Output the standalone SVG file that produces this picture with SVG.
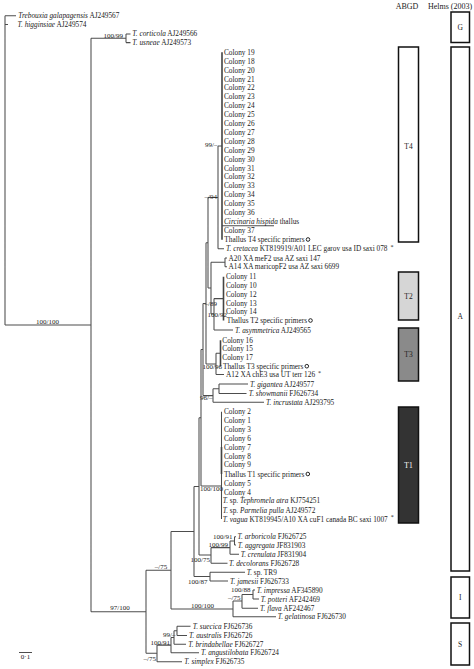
<svg xmlns="http://www.w3.org/2000/svg" width="474" height="669" viewBox="0 0 474 669">
<style>
text{font-family:"Liberation Serif","Times New Roman",serif;fill:#222}
.lf{font-size:7.3px}
.sp{font-size:7px}
.i{font-style:italic}
.e{text-anchor:end}
.m{text-anchor:middle}
.br{fill:none;stroke:#4d4d4d;stroke-width:1.05}
.cv{fill:none;stroke:#444;stroke-width:1.6}
.box{stroke:#111;stroke-width:1.5}
.bl{font-size:7.5px;text-anchor:middle}
.hd{font-size:8px;text-anchor:middle}
.pm{fill:none;stroke:#222;stroke-width:1}
.ast{font-size:6px}
</style>
<rect width="474" height="669" fill="#fff"/>
<g id="connectors">
<path class="br" d="M5 15.7V325M5 15.7H16M5 24.5H8M5 325H91
M91 38.3V611.8M91 38.3H126M126 34V42.6M126 34H130.5M126 42.6H130.5
M91 611.8H146M146 570.2V653.3
M146 570.2H171M171 531.5V609
M171 609H233M233 601V616.8M233 616.8H276M233 601H242M242 594.5V608.2M242 608.2H258M242 594.5H253M253 590V599M253 590H255M253 599H259
M171 531.5H194M194 486.4V576.5
M194 576.5H210M210 572.3V581M210 572.3H245M210 581H228
M194 486.4H199M199 417.8V555
M199 555H211M211 547.6V563.3M211 563.3H227.5
M211 547.6H230M230 541V554.2M230 554.2H239
M230 541H234.5M234.5 536.8V545M234.5 536.8H236M234.5 545H236
M199 417.8H201M201 349.5V486
M201 486H221.5M221.5 411.7V519
M201 349.5H203M203 303.5V395.6
M203 395.6H213M213 388.8V402.3M213 402.3H264
M213 388.8H219M219 384V393.5M219 384H248M219 393.5H246.5
M203 303.5H206M206 242.7V364
M206 364H216M216 353.3V374.5M216 374.5H224
M216 353.3H220.5
M206 242.7H208M208 197.4V288
M208 197.4H218M218 146V248.7M218 248.7H224
M218 146H222
M208 288H211M211 262.3V314
M211 262.3H225M225 258V266.7M225 258H227M225 266.7H227
M211 314H214M214 298.6V330M214 330H233
M214 298.6H223.5
M146 653.3H157M157 645.1V661.7M157 661.7H182
M157 645.1H171M171 637.5V652.8M171 652.8H199
M171 637.5H174M174 630.8V644.3M174 644.3H186
M174 630.8H177M177 626.2V635.5M177 626.2H190.5M177 635.5H187
M222 225.8H274"/>
<path class="cv" d="M222 52.3V239.7M223.5 276.7V320.5M220.5 340.3V366.2M221.5 447V474"/>
<path class="br" d="M19 652.5H32"/>
</g>
<g id="leaves">
<g id="n-galapagensis"><text class="lf" x="18.3" y="18.2"><tspan class="i">Trebouxia galapagensis</tspan> AJ249567</text></g>
<g id="n-higginsiae"><text class="lf" x="17.5" y="27"><tspan class="i">T. higginsiae</tspan> AJ249574</text></g>
<g id="n-corticola"><text class="lf" x="132.3" y="36.3"><tspan class="i">T. corticola</tspan> AJ249566</text></g>
<g id="n-usneae"><text class="lf" x="132.3" y="44.9"><tspan class="i">T. usneae</tspan> AJ249573</text></g>
<g id="n-t4">
<text class="lf" x="224" y="54.8">Colony 19</text>
<text class="lf" x="224" y="63.7">Colony 18</text>
<text class="lf" x="224" y="72.6">Colony 20</text>
<text class="lf" x="224" y="81.5">Colony 21</text>
<text class="lf" x="224" y="90.4">Colony 22</text>
<text class="lf" x="224" y="99.3">Colony 23</text>
<text class="lf" x="224" y="108.2">Colony 24</text>
<text class="lf" x="224" y="117.1">Colony 25</text>
<text class="lf" x="224" y="126">Colony 26</text>
<text class="lf" x="224" y="134.9">Colony 27</text>
<text class="lf" x="224" y="143.8">Colony 28</text>
<text class="lf" x="224" y="152.7">Colony 29</text>
<text class="lf" x="224" y="161.6">Colony 30</text>
<text class="lf" x="224" y="170.5">Colony 31</text>
<text class="lf" x="224" y="179.4">Colony 32</text>
<text class="lf" x="224" y="188.3">Colony 33</text>
<text class="lf" x="224" y="197.2">Colony 34</text>
<text class="lf" x="224" y="206.1">Colony 35</text>
<text class="lf" x="224" y="215">Colony 36</text>
<text class="lf" x="224" y="223.9"><tspan class="i">Circinaria hispida</tspan> thallus</text>
<text class="lf" x="224" y="232.8">Colony 37</text>
<text class="lf" x="224.3" y="242">Thallus T4 specific primers</text>
<circle class="pm" cx="308" cy="239.5" r="1.8"/>
</g>
<g id="n-cretacea"><text class="lf" x="226" y="251.2"><tspan class="i">T. cretacea</tspan> KT819919/A01 LEC garov usa ID saxi 078<tspan class="ast" dx="3" dy="-2.5">*</tspan></text></g>
<g id="n-a20"><text class="lf" x="228.5" y="260.5">A20 XA meF2 usa AZ saxi 147</text></g>
<g id="n-a14"><text class="lf" x="228.5" y="269.2">A14 XA maricopF2 usa AZ saxi 6699</text></g>
<g id="n-t2">
<text class="lf" x="226" y="279.2">Colony 11</text>
<text class="lf" x="226" y="287.8">Colony 10</text>
<text class="lf" x="226" y="296.8">Colony 12</text>
<text class="lf" x="226" y="305.5">Colony 13</text>
<text class="lf" x="226" y="314">Colony 14</text>
<text class="lf" x="226.7" y="323">Thallus T2 specific primers</text>
<circle class="pm" cx="310.5" cy="320.5" r="1.8"/>
</g>
<g id="n-asymmetrica"><text class="lf" x="235" y="332.5"><tspan class="i">T. asymmetrica</tspan> AJ249565</text></g>
<g id="n-t3">
<text class="lf" x="222.3" y="342.8">Colony 16</text>
<text class="lf" x="222.3" y="351.3">Colony 15</text>
<text class="lf" x="222.3" y="359.8">Colony 17</text>
<text class="lf" x="223" y="368.7">Thallus T3 specific primers</text>
<circle class="pm" cx="306.8" cy="366.2" r="1.8"/>
</g>
<g id="n-a12"><text class="lf" x="226" y="377">A12 XA chE3 usa UT terr 126<tspan class="ast" dx="3" dy="-2.5">*</tspan></text></g>
<g id="n-gigantea"><text class="lf" x="250" y="386.5"><tspan class="i">T. gigantea</tspan> AJ249577</text></g>
<g id="n-showmanii"><text class="lf" x="248.7" y="396"><tspan class="i">T. showmanii</tspan> FJ626734</text></g>
<g id="n-incrustata"><text class="lf" x="266" y="404.8"><tspan class="i">T. incrustata</tspan> AJ293795</text></g>
<g id="n-t1">
<text class="lf" x="224" y="414.2">Colony 2</text>
<text class="lf" x="224" y="423.1">Colony 1</text>
<text class="lf" x="224" y="431.9">Colony 3</text>
<text class="lf" x="224" y="440.5">Colony 6</text>
<text class="lf" x="224" y="449.8">Colony 7</text>
<text class="lf" x="224" y="458.7">Colony 8</text>
<text class="lf" x="224" y="467.3">Colony 9</text>
<text class="lf" x="224" y="476.5">Thallus T1 specific primers</text>
<circle class="pm" cx="307.8" cy="474" r="1.8"/>
<text class="lf" x="224" y="485.5">Colony 5</text>
<text class="lf" x="224" y="494.5">Colony 4</text>
</g>
<g id="n-tephromela"><text class="lf" x="222.7" y="503.3"><tspan class="i">T.</tspan> sp. <tspan class="i">Tephromela atra</tspan> KJ754251</text></g>
<g id="n-parmelia"><text class="lf" x="222.7" y="512.5"><tspan class="i">T.</tspan> sp. <tspan class="i">Parmelia pulla</tspan> AJ249572</text></g>
<g id="n-vagua"><text class="lf" x="222.7" y="521.5"><tspan class="i">T. vagua</tspan> KT819945/A10 XA cuF1 canada BC saxi 1007<tspan class="ast" dx="3" dy="-2.5">*</tspan></text></g>
<g id="n-arboricola"><text class="lf" x="237.5" y="539.3"><tspan class="i">T. arboricola</tspan> FJ626725</text></g>
<g id="n-aggregata"><text class="lf" x="237.8" y="547.5"><tspan class="i">T. aggregata</tspan> JF831903</text></g>
<g id="n-crenulata"><text class="lf" x="240.7" y="556.7"><tspan class="i">T. crenulata</tspan> JF831904</text></g>
<g id="n-decolorans"><text class="lf" x="229" y="565.8"><tspan class="i">T. decolorans</tspan> FJ626728</text></g>
<g id="n-tr9"><text class="lf" x="246.7" y="574.8"><tspan class="i">T.</tspan> sp. TR9</text></g>
<g id="n-jamesii"><text class="lf" x="230" y="583.5"><tspan class="i">T. jamesii</tspan> FJ626733</text></g>
<g id="n-impressa"><text class="lf" x="256.7" y="592.5"><tspan class="i">T. impressa</tspan> AF345890</text></g>
<g id="n-potteri"><text class="lf" x="260.7" y="601.5"><tspan class="i">T. potteri</tspan> AF242469</text></g>
<g id="n-flava"><text class="lf" x="260" y="610.7"><tspan class="i">T. flava</tspan> AF242467</text></g>
<g id="n-gelatinosa"><text class="lf" x="277.7" y="619.3"><tspan class="i">T. gelatinosa</tspan> FJ626730</text></g>
<g id="n-suecica"><text class="lf" x="192.7" y="628.7"><tspan class="i">T. suecica</tspan> FJ626736</text></g>
<g id="n-australis"><text class="lf" x="189" y="638"><tspan class="i">T. australis</tspan> FJ626726</text></g>
<g id="n-brindabellae"><text class="lf" x="188.3" y="646.8"><tspan class="i">T. brindabellae</tspan> FJ626727</text></g>
<g id="n-angustilobata"><text class="lf" x="201" y="655.3"><tspan class="i">T. angustilobata</tspan> FJ626724</text></g>
<g id="n-simplex"><text class="lf" x="184.3" y="664.2"><tspan class="i">T. simplex</tspan> FJ626735</text></g>
</g>
<g id="support">
<text class="sp e" x="123" y="37.6">100/99</text>
<text class="sp m" x="47.5" y="323.8">100/100</text>
<text class="sp e" x="217.5" y="147.4">99/–</text>
<text class="sp e" x="217" y="199.4">–/94</text>
<text class="sp e" x="217" y="306.4">–/89</text>
<text class="sp e" x="227" y="317.4">100/92</text>
<text class="sp e" x="222" y="369.4">100/96</text>
<text class="sp e" x="212.5" y="400.4">96/–</text>
<text class="sp e" x="223" y="491.4">100/100</text>
<text class="sp e" x="232.5" y="539.4">100/91</text>
<text class="sp e" x="228" y="547.4">100/99</text>
<text class="sp e" x="210" y="562.4">100/75</text>
<text class="sp e" x="207.5" y="584.4">100/87</text>
<text class="sp m" x="161" y="568.5">–/75</text>
<text class="sp m" x="202.5" y="607.5">100/100</text>
<text class="sp e" x="250.5" y="592.4">100/88</text>
<text class="sp e" x="240.5" y="600.4">–/75</text>
<text class="sp m" x="120" y="610.3">97/100</text>
<text class="sp e" x="175.5" y="637.4">99/–</text>
<text class="sp e" x="170" y="645.4">100/91</text>
<text class="sp e" x="156" y="661.4">–/75</text>
<text class="sp m" x="25.5" y="659">0·1</text>
</g>
<g id="headers">
<text class="hd" x="407" y="8.5">ABGD</text>
<text class="hd" x="450" y="8.5">Helms (2003)</text>
</g>
<g id="box-T4"><rect class="box" x="398.5" y="47" width="20" height="195" fill="#fff"/><text class="bl" x="408.5" y="148.5">T4</text></g>
<g id="box-T2"><rect class="box" x="398.5" y="272" width="20" height="48" fill="#d6d6d6"/><text class="bl" x="408.5" y="298.5">T2</text></g>
<g id="box-T3"><rect class="box" x="398.5" y="328" width="20" height="53" fill="#8a8a8a"/><text class="bl" x="408.5" y="357">T3</text></g>
<g id="box-T1"><rect class="box" x="398.5" y="407" width="20" height="116" fill="#333"/><text class="bl" x="408.5" y="468" style="fill:#fff">T1</text></g>
<g id="box-G"><rect class="box" x="451" y="12" width="18.5" height="30.5" fill="#fff"/><text class="bl" x="460.2" y="30">G</text></g>
<g id="box-A"><rect class="box" x="451" y="47" width="18.5" height="524" fill="#fff"/><text class="bl" x="460.2" y="319">A</text></g>
<g id="box-I"><rect class="box" x="451" y="577" width="18.5" height="41" fill="#fff"/><text class="bl" x="460.2" y="600">I</text></g>
<g id="box-S"><rect class="box" x="451" y="623" width="18.5" height="42" fill="#fff"/><text class="bl" x="460.2" y="647">S</text></g>
</svg>
